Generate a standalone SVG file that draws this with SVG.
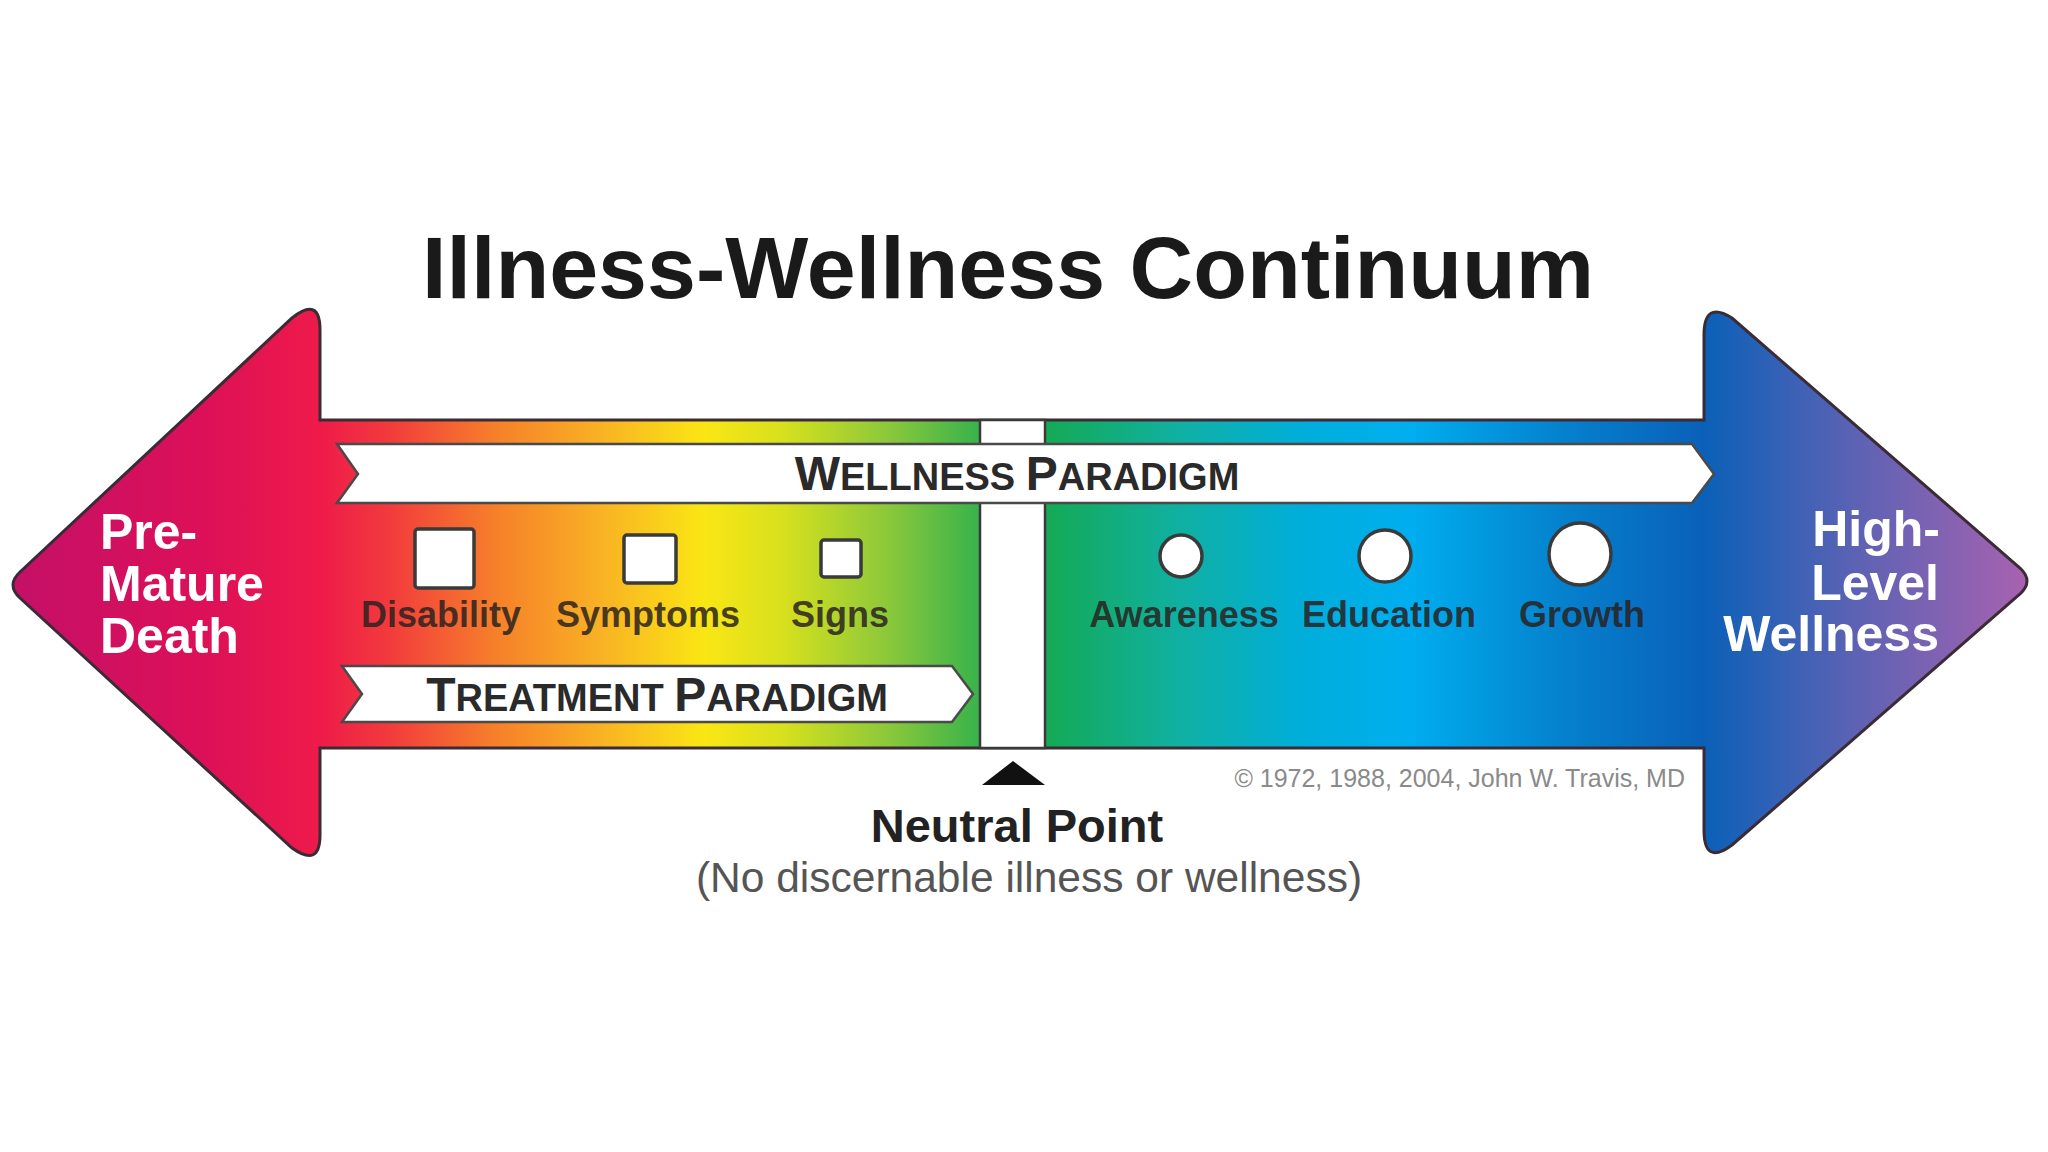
<svg xmlns="http://www.w3.org/2000/svg" width="2048" height="1152" viewBox="0 0 2048 1152">
<defs>
<linearGradient id="spectrum" gradientUnits="userSpaceOnUse" x1="13" y1="0" x2="2028" y2="0">
<stop offset="0" stop-color="#c41068"/>
<stop offset="0.093" stop-color="#dc1058"/>
<stop offset="0.152" stop-color="#ee1a4a"/>
<stop offset="0.188" stop-color="#f23c3c"/>
<stop offset="0.240" stop-color="#f6802a"/>
<stop offset="0.292" stop-color="#f9b224"/>
<stop offset="0.343" stop-color="#fae614"/>
<stop offset="0.383" stop-color="#d6e01e"/>
<stop offset="0.434" stop-color="#8cc83a"/>
<stop offset="0.477" stop-color="#3cb44a"/>
<stop offset="0.515" stop-color="#14aa58"/>
<stop offset="0.577" stop-color="#10b0a0"/>
<stop offset="0.642" stop-color="#00aedc"/>
<stop offset="0.693" stop-color="#00aeef"/>
<stop offset="0.771" stop-color="#0580cc"/>
<stop offset="0.839" stop-color="#0a60b8"/>
<stop offset="0.912" stop-color="#5a62b4"/>
<stop offset="1" stop-color="#a862b0"/>
</linearGradient>
</defs>
<style>
text { font-family: "Liberation Sans", Arial, sans-serif; }
.title { font-size: 88px; font-weight: bold; fill: #1a1a1a; }
.end { font-size: 50px; font-weight: bold; fill: #ffffff; }
.banner { fill: #ffffff; stroke: #4a4a4a; stroke-width: 2.5; }
.bannertext { font-weight: bold; fill: #2a2a2a; }
.big { font-size: 48px; }
.small { font-size: 38px; }
.marker { fill: #ffffff; stroke: #3a3a3a; stroke-width: 3.5; }
.lbl { font-size: 36px; font-weight: bold; fill: #2a2220; fill-opacity: 0.85; }
</style>
<rect width="2048" height="1152" fill="#ffffff"/>

<g id="title">
<text class="title" x="1008" y="298" text-anchor="middle">Illness-Wellness Continuum</text>
</g>

<g id="continuum-arrow">
<path d="M 20,572 L 292,318 Q 320,296 320,330 L 320,420 L 1704,420 L 1704,335 Q 1704,300 1732,318 L 2020,568 Q 2034,581 2020,594 L 1732,845 Q 1704,866 1704,830 L 1704,748 L 320,748 L 320,835 Q 320,868 292,848 L 20,598 Q 6,585 20,572 Z" fill="url(#spectrum)" stroke="#3b2b35" stroke-width="3"/>
</g>

<g id="neutral-band">
<rect x="980" y="420" width="65" height="328" fill="#ffffff" stroke="#3a3a3a" stroke-width="2.5"/>
</g>

<g id="wellness-paradigm">
<path class="banner" d="M 337,444 L 1692,444 L 1714,474 L 1692,503 L 337,503 L 358,474 Z"/>
<text class="bannertext" x="1017" y="490" text-anchor="middle"><tspan class="big">W</tspan><tspan class="small">ELLNESS </tspan><tspan class="big">P</tspan><tspan class="small">ARADIGM</tspan></text>
</g>

<g id="treatment-paradigm">
<path class="banner" d="M 342,666 L 952,666 L 973,694 L 952,722 L 342,722 L 362,694 Z"/>
<text class="bannertext" x="657" y="711" text-anchor="middle"><tspan class="big">T</tspan><tspan class="small">REATMENT </tspan><tspan class="big">P</tspan><tspan class="small">ARADIGM</tspan></text>
</g>

<g id="pre-mature-death">
<text class="end" x="100" y="549">Pre-</text>
<text class="end" x="100" y="601">Mature</text>
<text class="end" x="100" y="653">Death</text>
</g>

<g id="high-level-wellness">
<text class="end" x="1940" y="546" text-anchor="end" fill="#f4eeff">High-</text>
<text class="end" x="1939" y="600" text-anchor="end">Level</text>
<text class="end" x="1939" y="651" text-anchor="end">Wellness</text>
</g>

<g id="disability">
<rect class="marker" x="415" y="529" width="59" height="59" rx="3"/>
<text class="lbl" x="441" y="627" text-anchor="middle">Disability</text>
</g>
<g id="symptoms">
<rect class="marker" x="624" y="535" width="52" height="48" rx="3"/>
<text class="lbl" x="648" y="627" text-anchor="middle">Symptoms</text>
</g>
<g id="signs">
<rect class="marker" x="821" y="540" width="40" height="37" rx="3"/>
<text class="lbl" x="840" y="627" text-anchor="middle">Signs</text>
</g>

<g id="awareness">
<circle class="marker" cx="1181" cy="556" r="21"/>
<text class="lbl" x="1184" y="627" text-anchor="middle">Awareness</text>
</g>
<g id="education">
<circle class="marker" cx="1385" cy="556" r="26"/>
<text class="lbl" x="1389" y="627" text-anchor="middle">Education</text>
</g>
<g id="growth">
<circle class="marker" cx="1580" cy="554" r="31"/>
<text class="lbl" x="1582" y="627" text-anchor="middle">Growth</text>
</g>

<g id="connectors">
<polygon points="982,785 1045,785 1013,761" fill="#111111"/>
</g>

<g id="neutral-point">
<text x="1017" y="842" text-anchor="middle" font-size="47" font-weight="bold" fill="#222222">Neutral Point</text>
<text x="1029" y="892" text-anchor="middle" font-size="42.5" fill="#555555">(No discernable illness or wellness)</text>
</g>

<g id="copyright">
<text x="1685" y="787" text-anchor="end" font-size="25" fill="#8a8a8a">© 1972, 1988, 2004, John W. Travis, MD</text>
</g>
</svg>
